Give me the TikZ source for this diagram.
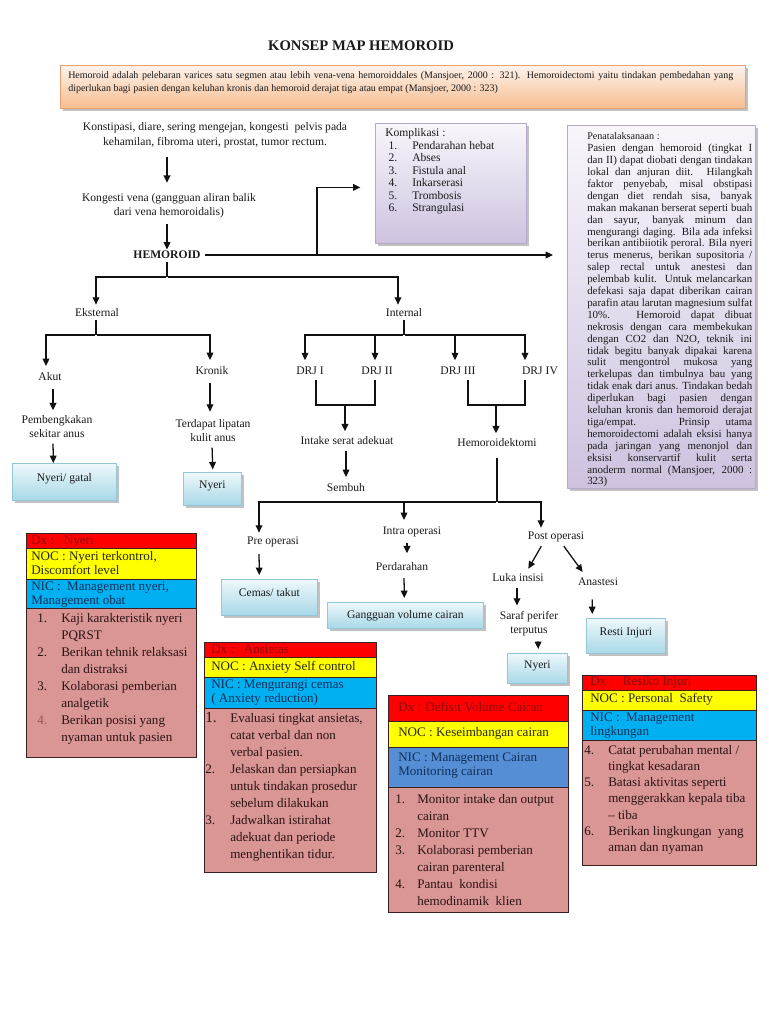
\documentclass[tikz,border=0pt]{standalone}
\usepackage{fontspec}
\setmainfont{Liberation Serif}
\usetikzlibrary{arrows.meta,shadows,calc}
\newcommand{\myfs}[2]{\fontsize{#1}{#2}\selectfont}
\definecolor{txtc}{HTML}{1A1A1A}
\definecolor{linec}{HTML}{111111}
\definecolor{dxred}{HTML}{FF0000}
\definecolor{dxtxt}{HTML}{8E0A0A}
\definecolor{nocy}{HTML}{FFFF00}
\definecolor{noctxt}{HTML}{2A2A10}
\definecolor{nicc}{HTML}{00B0F0}
\definecolor{nicblue}{HTML}{558ED5}
\definecolor{nictxt}{HTML}{10305A}
\definecolor{pinkc}{HTML}{D99694}
\definecolor{itemtxt}{HTML}{2B1414}
\definecolor{num4}{HTML}{A0504F}
\definecolor{boxbd}{HTML}{3A2020}
\definecolor{bluetop}{HTML}{EEF8FB}
\definecolor{bluebot}{HTML}{A8D8E8}
\definecolor{bluebd}{HTML}{93C6D6}
\definecolor{lavtop}{HTML}{F8F6FB}
\definecolor{lavbot}{HTML}{CEC2DF}
\definecolor{lavbd}{HTML}{B5A8CA}
\definecolor{hdrtop}{HTML}{FDF3EC}
\definecolor{hdrbot}{HTML}{F6BD90}
\definecolor{hdrbd}{HTML}{E7A06E}
\begin{document}
\begin{tikzpicture}[x=0.75pt,y=-0.75pt,
  lbl/.style={font=\myfs{8.7}{10.5}, align=center, inner sep=2pt, text=txtc},
  arr/.style={-{Triangle[length=5.5pt,width=5pt]}, line width=0.95pt, draw=linec, shorten <=1pt, shorten >=1pt},
  ln/.style={line width=0.95pt, draw=linec},
  shd/.style={drop shadow={shadow xshift=2pt, shadow yshift=-2pt, fill=black!60, opacity=0.4}},
  bbox/.style={shd, draw=bluebd, line width=0.5pt, top color=bluetop, bottom color=bluebot, font=\myfs{8.7}{10.5}, text=txtc, inner sep=0pt, anchor=north west},
  lavbox/.style={shd, draw=lavbd, line width=0.6pt, top color=lavtop, bottom color=lavbot, inner sep=0pt, anchor=north west},
  band/.style={draw=boxbd, line width=0.6pt},
  dxt/.style={font=\myfs{9.8}{10.5}, text=dxtxt, inner sep=0pt, anchor=base west},
  noct/.style={font=\myfs{9.8}{10.5}, text=noctxt, inner sep=0pt, anchor=north west, align=left},
  nict/.style={font=\myfs{9.8}{10.5}, text=nictxt, inner sep=0pt, anchor=north west, align=left},
  itemt/.style={font=\myfs{9.8}{12.75}, text=itemtxt, inner sep=0pt, anchor=north west, align=left},
]
\useasboundingbox[fill=white] (0,0) rectangle (768,1024);

% title and header
\node[font=\myfs{11}{13}\bfseries, text=txtc] (title) at (361,46) {KONSEP MAP HEMOROID};
\node[shd, draw=hdrbd, line width=0.6pt, top color=hdrtop, bottom color=hdrbot, minimum width=513.75pt, minimum height=32.25pt, anchor=north west, inner sep=0pt] (hdr) at (60,65) {};
\node[font=\myfs{7.5}{9.75}, text=txtc, align=left, anchor=north west, inner sep=0pt] (hdrtext) at (68,71)
 {\makebox[498.75pt][s]{Hemoroid adalah pelebaran varices satu segmen atau lebih vena-vena hemoroiddales (Mansjoer, 2000 : 321). Hemoroidectomi yaitu tindakan pembedahan yang}\\
  diperlukan bagi pasien dengan keluhan kronis dan hemoroid derajat tiga atau empat (Mansjoer, 2000 : 323)};

% top chain
\node[lbl, font=\myfs{8.7}{11.25}] (konst) at (215,135.5) {Konstipasi, diare, sering mengejan, kongesti\ \ pelvis pada\\kehamilan, fibroma uteri, prostat, tumor rectum.};
\node[lbl] (kong) at (169,206) {Kongesti vena (gangguan aliran balik\\dari vena hemoroidalis)};
\node[lbl, font=\myfs{8.7}{10.5}\bfseries] (hem) at (167,255) {HEMOROID};

% komplikasi
\node[lavbox, minimum width=113.25pt, minimum height=90pt] (komp) at (375,123) {};
\node[font=\myfs{8.7}{9.375}, text=txtc, align=left, anchor=north west, inner sep=0pt] (komptext) at (385,128.5)
 {Komplikasi :\\
  \makebox[9pt][r]{1.}\hspace{11.25pt}Pendarahan hebat\\
  \makebox[9pt][r]{2.}\hspace{11.25pt}Abses\\
  \makebox[9pt][r]{3.}\hspace{11.25pt}Fistula anal\\
  \makebox[9pt][r]{4.}\hspace{11.25pt}Inkarserasi\\
  \makebox[9pt][r]{5.}\hspace{11.25pt}Trombosis\\
  \makebox[9pt][r]{6.}\hspace{11.25pt}Strangulasi};

% penatalaksanaan
\node[lavbox, minimum width=141pt, minimum height=272.25pt] (pen) at (567,125) {};
\begin{scope}
\clip (pen.north west) rectangle (pen.south east);
\node[font=\myfs{8.2}{8.925}, text=txtc, align=left, anchor=north west, inner sep=0pt] (pentext) at (587,132.5)
 {{\myfs{7.6}{8.925}Penatalaksanaan :}\\
  \makebox[123.75pt][s]{Pasien dengan hemoroid (tingkat I}\\
  \makebox[123.75pt][s]{dan II) dapat diobati dengan tindakan}\\
  \makebox[123.75pt][s]{lokal dan anjuran diit. Hilangkah}\\
  \makebox[123.75pt][s]{faktor penyebab, misal obstipasi}\\
  \makebox[123.75pt][s]{dengan diet rendah sisa, banyak}\\
  \makebox[123.75pt][s]{makan makanan berserat seperti buah}\\
  \makebox[123.75pt][s]{dan sayur, banyak minum dan}\\
  \makebox[123.75pt][s]{mengurangi daging. Bila ada infeksi}\\
  \makebox[123.75pt][s]{berikan antibiiotik peroral. Bila nyeri}\\
  \makebox[123.75pt][s]{terus menerus, berikan supositoria /}\\
  \makebox[123.75pt][s]{salep rectal untuk anestesi dan}\\
  \makebox[123.75pt][s]{pelembab kulit. Untuk melancarkan}\\
  \makebox[123.75pt][s]{defekasi saja dapat diberikan cairan}\\
  \makebox[123.75pt][s]{parafin atau larutan magnesium sulfat}\\
  \makebox[123.75pt][s]{10\%. Hemoroid dapat dibuat}\\
  \makebox[123.75pt][s]{nekrosis dengan cara membekukan}\\
  \makebox[123.75pt][s]{dengan CO2 dan N2O, teknik ini}\\
  \makebox[123.75pt][s]{tidak begitu banyak dipakai karena}\\
  \makebox[123.75pt][s]{sulit mengontrol mukosa yang}\\
  \makebox[123.75pt][s]{terkelupas dan timbulnya bau yang}\\
  \makebox[123.75pt][s]{tidak enak dari anus. Tindakan bedah}\\
  \makebox[123.75pt][s]{diperlukan bagi pasien dengan}\\
  \makebox[123.75pt][s]{keluhan kronis dan hemoroid derajat}\\
  \makebox[123.75pt][s]{tiga/empat. Prinsip utama}\\
  \makebox[123.75pt][s]{hemoroidectomi adalah eksisi hanya}\\
  \makebox[123.75pt][s]{pada jaringan yang menonjol dan}\\
  \makebox[123.75pt][s]{eksisi konservartif kulit serta}\\
  \makebox[123.75pt][s]{anoderm normal (Mansjoer, 2000 :}\\
  323)};
\end{scope}

% tree labels
\node[lbl] (ekst) at (97,313) {Eksternal};
\node[lbl] (intl) at (404,313) {Internal};
\node[lbl] (akut) at (50,377) {Akut};
\node[lbl] (kron) at (212,371) {Kronik};
\node[lbl] (pemb) at (57,427) {Pembengkakan\\sekitar anus};
\node[lbl] (terd) at (213,431) {Terdapat lipatan\\kulit anus};
\node[bbox, minimum width=78pt, minimum height=27.75pt, text depth=7pt] (ngat) at (12,463) {Nyeri/ gatal};
\node[bbox, minimum width=43.5pt, minimum height=24.75pt, text depth=7pt] (nyk) at (183,472) {Nyeri};
\node[lbl] (d1) at (310,371) {DRJ I};
\node[lbl] (d2) at (377,371) {DRJ II};
\node[lbl] (d3) at (458,371) {DRJ III};
\node[lbl] (d4) at (540,371) {DRJ IV};
\node[lbl] (intk) at (347,441) {Intake serat adekuat};
\node[lbl] (semb) at (346,488) {Sembuh};
\node[lbl] (hemo) at (497,443) {Hemoroidektomi};
\node[lbl] (pre) at (273,542) {Pre operasi};
\node[lbl] (intr) at (412,532) {Intra operasi};
\node[lbl] (post) at (556,537) {Post operasi};
\node[lbl] (perd) at (402,567) {Perdarahan};
\node[bbox, minimum width=72pt, minimum height=27pt, text depth=8pt] (cem) at (221,579) {Cemas/ takut};
\node[bbox, minimum width=117pt, minimum height=19.5pt] (gvc) at (327,602) {Gangguan volume cairan};
\node[lbl] (luka) at (518,578) {Luka insisi};
\node[lbl] (anas) at (598,582) {Anastesi};
\node[lbl] (saraf) at (529,623.5) {Saraf perifer\\terputus};
\node[bbox, minimum width=45pt, minimum height=22.5pt, text depth=5pt] (nyp) at (507,653) {Nyeri};
\node[bbox, minimum width=59.25pt, minimum height=26.25pt, text depth=7pt] (rin) at (586,618) {Resti Injuri};

% connectors top
\draw[arr, shorten <=4pt, shorten >=6pt] (konst.south -| hem) -- (kong.north -| hem);
\draw[arr, shorten <=2pt, shorten >=-1pt] (kong.south -| hem) -- (hem.north);
\draw[arr, shorten >=10.5pt] (hem.east) -- (hem.east -| pen.west);
\coordinate (kb) at (317,255);
\draw[arr, shorten >=11pt] (kb) |- ($(komp.west)+(0,4)$);
\coordinate (j1) at (167,277);
\draw[ln] (hem) -- (j1);
\draw[arr] (j1) -| ($(ekst.north)+(-1,0)$);
\draw[arr] (j1) -| ($(intl.north)+(-6,0)$);
\coordinate (j2) at (96,335);
\draw[ln] (ekst.south -| j2) -- (j2);
\draw[arr, shorten >=3pt] (j2) -| ($(akut.north)+(-4,0)$);
\draw[arr, shorten >=3pt] (j2) -| ($(kron.north)+(-2,0)$);
\draw[arr, shorten <=4pt, shorten >=2pt] ($(akut.south)+(3,0)$) -- ($(pemb.north)+(-4,0)$);
\draw[arr, shorten <=2pt, shorten >=0pt] ($(pemb.south)+(-4,0)$) -- ($(ngat.north)+(-11,0)$);
\draw[arr, shorten <=4pt, shorten >=4pt] ($(kron.south)+(-2,0)$) -- ($(terd.north)+(-3,0)$);
\draw[arr, shorten <=2pt, shorten >=2pt] ($(terd.south)+(-1,0)$) -- ($(nyk.north)+(0.5,0)$);
\coordinate (j3) at (404,335);
\draw[ln] (intl) -- (j3);
\draw[arr, shorten >=3pt] (j3) -| ($(d1.north)+(-5,0)$);
\draw[arr, shorten >=3pt] (j3) -| ($(d2.north)+(-2,0)$);
\draw[arr, shorten >=3pt] (j3) -| ($(d3.north)+(-3,0)$);
\draw[arr, shorten >=3pt] (j3) -| ($(d4.north)+(-15,0)$);
\coordinate (b12) at (345,405);
\draw[ln, shorten <=2pt] ($(d1.south)+(6,0)$) |- (b12);
\draw[ln, shorten >=2pt] (b12) -| ($(d2.south)+(-2,0)$);
\draw[arr, shorten >=2pt] (b12) -- (b12 |- intk.north);
\coordinate (b34) at (496,405);
\draw[ln, shorten <=2pt] ($(d3.south)+(10,0)$) |- (b34);
\draw[ln, shorten >=2pt] (b34) -| ($(d4.south)+(-15,0)$);
\draw[arr, shorten >=2pt] (b34) -- (b34 |- hemo.north);
\draw[arr, shorten <=2pt, shorten >=3pt] (intk.south -| semb) -- (semb.north);
\coordinate (j6) at (497,502);
\draw[ln, shorten <=6pt] (hemo.south) -- (j6);
\draw[arr, shorten >=1pt] (j6) -| ($(pre.north)+(-14,0)$);
\draw[arr, shorten >=3pt] (j6) -| ($(intr.north)+(-8,0)$);
\draw[arr, shorten >=1pt] (j6) -| ($(post.north)+(-15,0)$);
\draw[arr, shorten <=3pt, shorten >=3pt] ($(pre.south)+(-14,0)$) -- ($(cem.north)+(-10,0)$);
\draw[arr, shorten <=2pt, shorten >=5pt] ($(intr.south)+(-5,0)$) -- ($(perd.north)+(5,0)$);
\draw[arr, shorten <=3pt, shorten >=3pt] ($(perd.south)+(2,0)$) -- ($(gvc.north)+(-1,0)$);
\draw[arr, shorten <=1pt, shorten >=2pt] ($(post.south)+(-14,0)$) -- ($(luka.north)+(9,0)$);
\draw[arr, shorten <=1pt, shorten >=3pt] ($(post.south)+(7,0)$) -- ($(anas.north)+(-13,0)$);
\draw[arr, shorten <=2pt, shorten >=2pt] ($(luka.south)+(-1,0)$) -- ($(saraf.north)+(-12,0)$);
\draw[arr, shorten <=2pt, shorten >=3pt] ($(saraf.south)+(9,0)$) -- ($(nyp.north)+(1,0)$);
\draw[arr, shorten <=8pt, shorten >=3pt] ($(anas.south)+(-6,0)$) -- ($(rin.north)+(-33.5,0)$);

% Dx Nyeri box
\path[band, fill=pinkc] (26,533) rectangle (196,757);
\path[band, fill=dxred] (26,533) rectangle (196,548);
\path[band, fill=nocy] (26,548) rectangle (196,579);
\path[band, fill=nicc] (26,579) rectangle (196,608);
\node[dxt] (dx1) at (31,544.5) {Dx :\ \ \ Nyeri};
\node[noct] (noc1) at (31,551.5) {NOC : Nyeri terkontrol,\\Discomfort level};
\node[nict] (nic1) at (31,581.5) {NIC :\ \ Management nyeri,\\Management obat};
\node[itemt] (it1) at (37,613.5)
 {\makebox[18pt][l]{1.}Kaji karakteristik nyeri\\
  \hspace*{18pt}PQRST\\
  \makebox[18pt][l]{2.}Berikan tehnik relaksasi\\
  \hspace*{18pt}dan distraksi\\
  \makebox[18pt][l]{3.}Kolaborasi pemberian\\
  \hspace*{18pt}analgetik\\
  \makebox[18pt][l]{\textcolor{num4}{4.}}Berikan posisi yang\\
  \hspace*{18pt}nyaman untuk pasien};

% Dx Ansietas box
\path[band, fill=pinkc] (204,642) rectangle (376,872);
\path[band, fill=dxred] (204,642) rectangle (376,657);
\path[band, fill=nocy] (204,657) rectangle (376,677);
\path[band, fill=nicc] (204,677) rectangle (376,708);
\node[dxt] (dx2) at (211,653.5) {Dx :\ \ \ Ansietas};
\node[noct] (noc2) at (211,660.8) {NOC : Anxiety Self control};
\node[nict] (nic2) at (211,680) {NIC : Mengurangi cemas\\( Anxiety reduction)};
\node[itemt] (it2) at (205,712)
 {\makebox[18.75pt][l]{\myfs{11.5}{12}1.}Evaluasi tingkat ansietas,\\
  \hspace*{18.75pt}catat verbal dan non\\
  \hspace*{18.75pt}verbal pasien.\\
  \makebox[18.75pt][l]{2.}Jelaskan dan persiapkan\\
  \hspace*{18.75pt}untuk tindakan prosedur\\
  \hspace*{18.75pt}sebelum dilakukan\\
  \makebox[18.75pt][l]{3.}Jadwalkan istirahat\\
  \hspace*{18.75pt}adekuat dan periode\\
  \hspace*{18.75pt}menghentikan tidur.};

% Dx Defisit box
\path[band, fill=pinkc] (388,695) rectangle (568,912);
\path[band, fill=dxred] (388,695) rectangle (568,721);
\path[band, fill=nocy] (388,721) rectangle (568,747);
\path[band, fill=nicblue] (388,747) rectangle (568,787);
\node[dxt] (dx3) at (398,711.5) {Dx : Defisit Volume Cairan};
\node[dxt, text=noctxt] (noc3) at (398,736.5) {NOC : Keseimbangan cairan};
\node[nict] (nic3) at (398,753) {NIC : Management Cairan\\Monitoring cairan};
\node[itemt] (it3) at (395,793.8)
 {\makebox[16.5pt][l]{1.}Monitor intake dan output\\
  \hspace*{16.5pt}cairan\\
  \makebox[16.5pt][l]{2.}Monitor TTV\\
  \makebox[16.5pt][l]{3.}Kolaborasi pemberian\\
  \hspace*{16.5pt}cairan parenteral\\
  \makebox[16.5pt][l]{4.}Pantau\ \ kondisi\\
  \hspace*{16.5pt}hemodinamik\ \ klien};

% Dx Resiko box
\path[band, fill=pinkc] (582,675) rectangle (756,865);
\path[band, fill=dxred] (582,675) rectangle (756,690);
\path[band, fill=nocy] (582,690) rectangle (756,710);
\path[band, fill=nicc] (582,710) rectangle (756,740);
\node[dxt] (dx4) at (590,685.5) {Dx :\ \ \ Resiko Injuri};
\node[noct] (noc4) at (590,692.8) {NOC : Personal\ \ Safety};
\node[nict] (nic4) at (590,712.8) {NIC :\ \ Management\\lingkungan};
\node[itemt, font=\myfs{9.8}{12.2}] (it4) at (584,744.8)
 {\makebox[18pt][l]{4.}Catat perubahan mental /\\
  \hspace*{18pt}tingkat kesadaran\\
  \makebox[18pt][l]{5.}Batasi aktivitas seperti\\
  \hspace*{18pt}menggerakkan kepala tiba\\
  \hspace*{18pt}-- tiba\\
  \makebox[18pt][l]{6.}Berikan lingkungan\ \ yang\\
  \hspace*{18pt}aman dan nyaman};
\end{tikzpicture}
\end{document}
